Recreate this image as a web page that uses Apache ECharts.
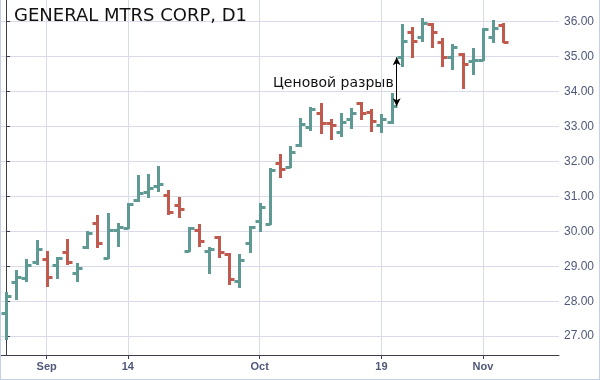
<!DOCTYPE html>
<html>
<head>
<meta charset="utf-8">
<script src="https://cdn.jsdelivr.net/npm/echarts@6/dist/echarts.min.js"></script>
<style>
  html, body { margin: 0; padding: 0; background: #fff; }
  #chart { width: 600px; height: 380px; box-sizing: border-box; border: 1px solid #c6d0e4; border-top: none; }
</style>
</head>
<body>
<div id="chart"></div>
<script>
const dates = ['08-26','08-27','08-28','08-31',
  '09-01','09-02','09-03','09-04','09-08','09-09','09-10','09-11','09-14','09-15','09-16','09-17','09-18','09-21','09-22','09-23','09-24','09-25','09-28','09-29','09-30',
  '10-01','10-02','10-05','10-06','10-07','10-08','10-09','10-12','10-13','10-14','10-15','10-16','10-19','10-20','10-21','10-22','10-23','10-26','10-27','10-28','10-29','10-30',
  '11-02','11-03','11-04'];
const open  = [27.65,28.54,28.65,29.13,29.20,29.03,29.42,28.81,29.55,30.25,29.23,30.04,30.09,30.90,31.12,31.30,31.04,30.75,29.43,30.04,29.43,29.84,29.35,28.58,29.66,30.30,30.21,31.95,31.83,32.47,32.98,33.38,33.11,32.85,33.21,33.66,33.42,33.04,33.12,34.98,35.69,35.55,35.93,35.41,35.00,35.08,34.86,34.90,35.55,35.91];
const high  = [28.27,28.89,29.21,29.75,29.44,29.27,29.77,29.08,30.00,30.47,30.53,30.25,30.82,31.61,31.64,31.87,31.18,30.99,30.13,30.21,29.56,29.87,29.37,29.34,30.15,30.80,31.80,32.21,32.44,33.23,33.55,33.68,33.21,33.40,33.54,33.71,33.49,33.35,33.95,35.93,35.84,36.10,35.97,35.52,35.36,35.10,35.24,35.81,36.05,35.95];
const low   = [26.89,28.03,28.54,29.03,28.40,28.63,29.03,28.56,29.50,29.51,29.20,29.56,30.06,30.85,30.94,31.13,30.47,30.37,29.40,29.56,28.77,29.23,28.46,28.37,29.37,29.97,30.18,31.52,31.80,32.42,32.88,32.78,32.61,32.71,32.92,33.19,32.85,32.80,33.08,34.71,34.95,35.41,35.24,34.71,34.62,34.07,34.47,34.86,35.38,35.40];
const close = [28.15,28.68,29.03,29.48,28.68,29.25,29.13,28.94,29.95,29.67,30.04,30.11,30.78,31.10,31.23,31.35,30.56,30.65,30.10,29.73,29.48,29.40,28.63,29.18,30.11,30.69,31.75,31.77,32.28,33.07,33.49,33.09,33.04,33.14,33.38,33.38,33.17,33.21,33.58,35.46,35.46,35.95,35.71,35.00,35.27,34.79,34.90,35.78,35.81,35.43];
const tickDates  = ['09-01','09-14','10-01','10-19','11-02'];
const tickLabels = ['Sep','14','Oct','19','Nov'];
const yTicks = [27, 28, 29, 30, 31, 32, 33, 34, 35, 36];
const gapBefore = '10-20', gapAfter = '10-21';
const title = 'GENERAL MTRS CORP, D1';
const note = 'Ценовой разрыв';

const UP = '#5e9994', DOWN = '#c05a4f';
const tickIdx = tickDates.map(d => dates.indexOf(d));
const gi0 = dates.indexOf(gapBefore), gi1 = dates.indexOf(gapAfter);
const gapX = (gi0 + gi1) / 2;
const seriesData = dates.map((d, i) => [i, open[i], high[i], low[i], close[i]]);

const chart = echarts.init(document.getElementById('chart'), null, { renderer: 'canvas' });
chart.setOption({
  animation: false,
  backgroundColor: '#fff',
  title: {
    text: title, left: 13, top: 7, padding: 0,
    textStyle: { fontFamily: 'DejaVu Sans', fontSize: 18, fontWeight: 'normal', color: '#111' }
  },
  graphic: [{
    type: 'text', left: 272, top: 76,
    style: { text: note, font: '14px "DejaVu Sans"', fill: '#111' }
  }],
  grid: { left: 0, top: 0, right: 40, bottom: 24 },
  xAxis: {
    type: 'value', min: -0.5, max: dates.length + 4.5,
    axisLine: { show: true, onZero: false, lineStyle: { color: '#3c3f48', width: 1 } },
    axisTick: { show: true, length: 4, customValues: tickIdx, lineStyle: { color: '#3c3f48' } },
    axisLabel: {
      customValues: tickIdx, margin: 6,
      formatter: v => tickLabels[tickIdx.indexOf(Math.round(v))] || '',
      fontFamily: 'Liberation Sans', fontSize: 11, fontWeight: 'bold', color: '#4f5878'
    },
    splitLine: { show: true, lineStyle: { color: '#d9dbe9', width: 1 } }
  },
  yAxis: {
    type: 'value', position: 'right', min: 26.46, max: 36.62, scale: true,
    axisLine: { show: true, lineStyle: { color: '#3c3f48', width: 1 } },
    axisTick: { show: true, length: 4, customValues: yTicks, lineStyle: { color: '#3c3f48' } },
    axisLabel: {
      customValues: yTicks, margin: 5,
      formatter: v => v.toFixed(2),
      fontFamily: 'Liberation Sans', fontSize: 12, color: '#4f5878'
    },
    splitLine: { show: true, lineStyle: { color: '#d9dbe9', width: 1 } }
  },
  series: [{
    type: 'custom',
    data: seriesData,
    encode: { x: 0, y: [1, 2, 3, 4] },
    clip: true,
    renderItem: function (params, api) {
      const i = api.value(0), o = api.value(1), h = api.value(2), l = api.value(3), c = api.value(4);
      const pH = api.coord([i, h]), pL = api.coord([i, l]);
      const pO = api.coord([i, o]), pC = api.coord([i, c]);
      const x = Math.round(pH[0]) + 0.5;
      const yo = Math.round(pO[1]) + 0.5, yc = Math.round(pC[1]) + 0.5;
      const w = 5;
      const col = c >= o ? UP : DOWN;
      const st = { stroke: col, lineWidth: 3, lineCap: 'butt' };
      return {
        type: 'group',
        children: [
          { type: 'line', shape: { x1: x, y1: Math.round(pH[1]), x2: x, y2: Math.round(pL[1]) }, style: st },
          { type: 'line', shape: { x1: x - w, y1: yo, x2: x, y2: yo }, style: st },
          { type: 'line', shape: { x1: x, y1: yc, x2: x + w, y2: yc }, style: st }
        ]
      };
    },
    markLine: {
      silent: true,
      symbol: ['arrow', 'arrow'],
      symbolSize: [6, 8],
      label: { show: false },
      lineStyle: { color: '#000', width: 1, type: 'solid' },
      data: [[{ coord: [gapX, close[gi0]] }, { coord: [gapX, open[gi1]] }]]
    }
  }]
});
</script>
</body>
</html>
